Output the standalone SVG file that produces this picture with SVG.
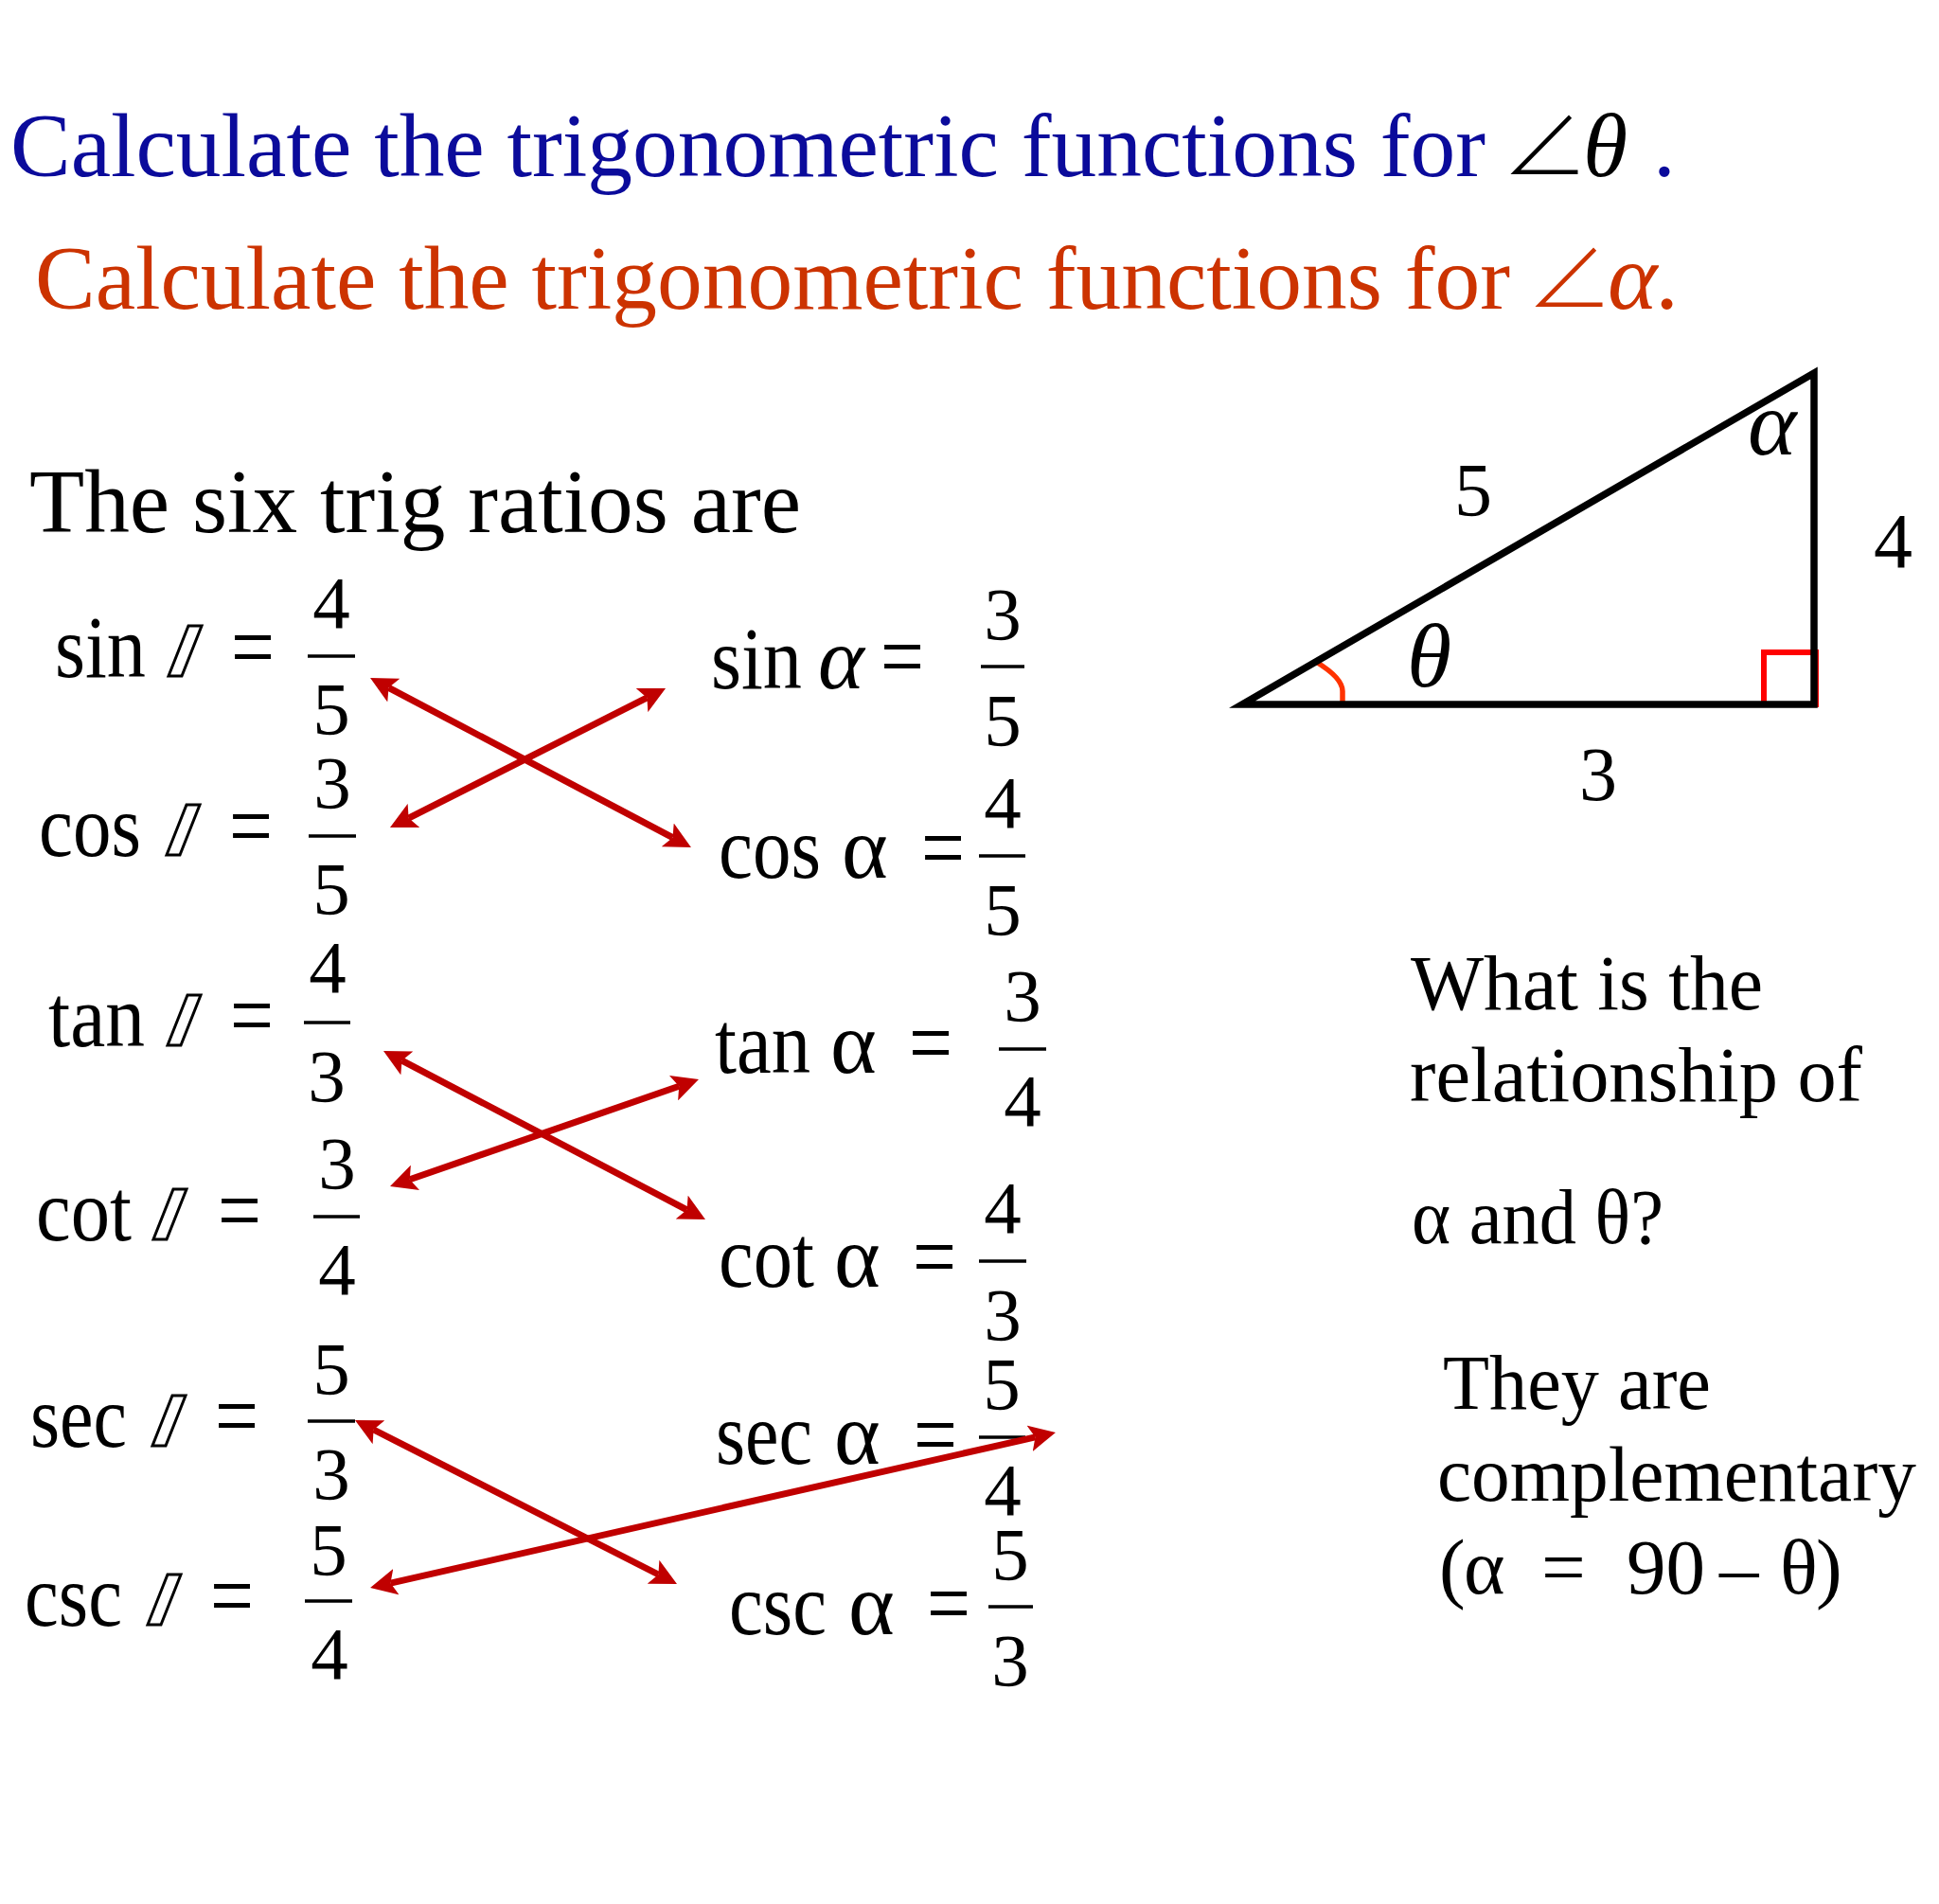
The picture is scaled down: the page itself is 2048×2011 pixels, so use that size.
<svg xmlns="http://www.w3.org/2000/svg" xmlns:xlink="http://www.w3.org/1999/xlink" width="2048" height="2011" viewBox="0 0 2048 2011">
<style>
.t{font-family:"Liberation Serif","Times New Roman",serif;fill:#000}
.fn{font-size:93px}
.eq{font-size:100px}
.dg{font-size:79px;text-anchor:middle}
.it{font-style:italic}
.q{font-size:83px}
.ang{font-family:"Noto Sans CJK JP","Noto Sans CJK SC",sans-serif;font-weight:300}
.bar{stroke:#000;stroke-width:3.5}
.arr{stroke:#C00000;stroke-width:7;fill:none;marker-start:url(#ah);marker-end:url(#ah)}
</style>
<defs>
<marker id="ah" viewBox="0 0 28 28" refX="6" refY="14" markerWidth="28" markerHeight="28" markerUnits="userSpaceOnUse" orient="auto-start-reverse">
<path d="M0,0 L28,14 L0,28 L6,14 Z" fill="#C00000"/>
</marker>
<path id="tofu" d="M0,0 L21,-53 L35,-53 L14,0 Z" fill="none" stroke="#000" stroke-width="3"/>
</defs>
<rect width="2048" height="2011" fill="#fff"/>

<g id="title1">
<text class="t" x="11" y="186" font-size="95" style="fill:#0b0b9b" textLength="1558" lengthAdjust="spacingAndGlyphs">Calculate the trigonometric functions for</text>
<text class="ang" x="1586" y="186" font-size="92" fill="#000">∠</text>
<text class="t it" x="1672" y="186" font-size="96">θ</text>
<text class="t" x="1746" y="186" font-size="95" style="fill:#0b0b9b">.</text>
</g>

<g id="title2">
<text class="t" x="37" y="326" font-size="95" style="fill:#CC3300" textLength="1558" lengthAdjust="spacingAndGlyphs">Calculate the trigonometric functions for</text>
<text class="ang" x="1612" y="326" font-size="92" fill="#CC3300">∠</text>
<text class="t it" x="1698" y="326" font-size="100" style="fill:#CC3300">α.</text>
</g>

<g id="heading">
<text class="t" x="31" y="562" font-size="95" textLength="815" lengthAdjust="spacingAndGlyphs">The six trig ratios are</text>
</g>

<g id="sin-theta">
<text class="t fn" x="58" y="715" textLength="96" lengthAdjust="spacingAndGlyphs">sin</text>
<use xlink:href="#tofu" x="178" y="714"/>
<text class="t eq" x="244" y="717" textLength="46" lengthAdjust="spacingAndGlyphs">=</text>
<text class="t dg" x="350" y="663">4</text><line class="bar" x1="325" y1="693" x2="375" y2="693"/><text class="t dg" x="350" y="775">5</text>
</g>
<g id="cos-theta">
<text class="t fn" x="41" y="904" textLength="108" lengthAdjust="spacingAndGlyphs">cos</text>
<use xlink:href="#tofu" x="176" y="903"/>
<text class="t eq" x="242" y="906" textLength="46" lengthAdjust="spacingAndGlyphs">=</text>
<text class="t dg" x="351" y="853">3</text><line class="bar" x1="326" y1="883" x2="376" y2="883"/><text class="t dg" x="350" y="965">5</text>
</g>
<g id="tan-theta">
<text class="t fn" x="51" y="1105" textLength="102" lengthAdjust="spacingAndGlyphs">tan</text>
<use xlink:href="#tofu" x="177" y="1104"/>
<text class="t eq" x="243" y="1106" textLength="46" lengthAdjust="spacingAndGlyphs">=</text>
<text class="t dg" x="346" y="1048">4</text><line class="bar" x1="321" y1="1080" x2="370" y2="1080"/><text class="t dg" x="345" y="1163">3</text>
</g>
<g id="cot-theta">
<text class="t fn" x="38" y="1310" textLength="101" lengthAdjust="spacingAndGlyphs">cot</text>
<use xlink:href="#tofu" x="162" y="1309"/>
<text class="t eq" x="230" y="1312" textLength="46" lengthAdjust="spacingAndGlyphs">=</text>
<text class="t dg" x="356" y="1255">3</text><line class="bar" x1="331" y1="1285" x2="380" y2="1285"/><text class="t dg" x="356" y="1367">4</text>
</g>
<g id="sec-theta">
<text class="t fn" x="32" y="1528" textLength="102" lengthAdjust="spacingAndGlyphs">sec</text>
<use xlink:href="#tofu" x="161" y="1527"/>
<text class="t eq" x="227" y="1529" textLength="46" lengthAdjust="spacingAndGlyphs">=</text>
<text class="t dg" x="350" y="1472">5</text><line class="bar" x1="325" y1="1501" x2="375" y2="1501"/><text class="t dg" x="350" y="1583">3</text>
</g>
<g id="csc-theta">
<text class="t fn" x="26" y="1717" textLength="103" lengthAdjust="spacingAndGlyphs">csc</text>
<use xlink:href="#tofu" x="156" y="1716"/>
<text class="t eq" x="222" y="1719" textLength="46" lengthAdjust="spacingAndGlyphs">=</text>
<text class="t dg" x="347" y="1663">5</text><line class="bar" x1="322" y1="1691" x2="372" y2="1691"/><text class="t dg" x="348" y="1773">4</text>
</g>

<g id="sin-alpha">
<text class="t fn" x="751" y="727" textLength="96" lengthAdjust="spacingAndGlyphs">sin</text>
<text class="t fn it" x="864" y="727">α</text>
<text class="t eq" x="930" y="727" textLength="46" lengthAdjust="spacingAndGlyphs">=</text>
<text class="t dg" x="1059" y="675">3</text><line class="bar" x1="1036" y1="704" x2="1082" y2="704"/><text class="t dg" x="1059" y="787">5</text>
</g>
<g id="cos-alpha">
<text class="t fn" x="759" y="927" textLength="108" lengthAdjust="spacingAndGlyphs">cos</text>
<text class="t fn" x="889" y="927">α</text>
<text class="t eq" x="973" y="929" textLength="46" lengthAdjust="spacingAndGlyphs">=</text>
<text class="t dg" x="1059" y="874">4</text><line class="bar" x1="1034" y1="904" x2="1083" y2="904"/><text class="t dg" x="1059" y="987">5</text>
</g>
<g id="tan-alpha">
<text class="t fn" x="755" y="1133" textLength="101" lengthAdjust="spacingAndGlyphs">tan</text>
<text class="t fn" x="877" y="1133">α</text>
<text class="t eq" x="960" y="1135" textLength="46" lengthAdjust="spacingAndGlyphs">=</text>
<text class="t dg" x="1080" y="1078">3</text><line class="bar" x1="1055" y1="1108" x2="1105" y2="1108"/><text class="t dg" x="1080" y="1189">4</text>
</g>
<g id="cot-alpha">
<text class="t fn" x="759" y="1359" textLength="101" lengthAdjust="spacingAndGlyphs">cot</text>
<text class="t fn" x="881" y="1359">α</text>
<text class="t eq" x="964" y="1361" textLength="46" lengthAdjust="spacingAndGlyphs">=</text>
<text class="t dg" x="1059" y="1302">4</text><line class="bar" x1="1034" y1="1332" x2="1084" y2="1332"/><text class="t dg" x="1059" y="1415">3</text>
</g>
<g id="sec-alpha">
<text class="t fn" x="756" y="1546" textLength="102" lengthAdjust="spacingAndGlyphs">sec</text>
<text class="t fn" x="881" y="1546">α</text>
<text class="t eq" x="965" y="1549" textLength="46" lengthAdjust="spacingAndGlyphs">=</text>
<text class="t dg" x="1058" y="1488">5</text><line class="bar" x1="1034" y1="1518" x2="1083" y2="1518"/><text class="t dg" x="1059" y="1600">4</text>
</g>
<g id="csc-alpha">
<text class="t fn" x="770" y="1726" textLength="103" lengthAdjust="spacingAndGlyphs">csc</text>
<text class="t fn" x="896" y="1726">α</text>
<text class="t eq" x="979" y="1727" textLength="46" lengthAdjust="spacingAndGlyphs">=</text>
<text class="t dg" x="1067" y="1668">5</text><line class="bar" x1="1044" y1="1697" x2="1091" y2="1697"/><text class="t dg" x="1067" y="1780">3</text>
</g>

<g id="triangle">
<rect x="1863" y="689" width="55" height="55" fill="none" stroke="#FF0000" stroke-width="6"/>
<path d="M1390,699 Q1418,716 1418,730 L1418,742" fill="none" stroke="#FF3300" stroke-width="5.5"/>
<path d="M1312,744 L1916,744 L1916,394 Z" fill="none" stroke="#000" stroke-width="7.5" stroke-linejoin="miter"/>
<text class="t" x="1536" y="545" font-size="80">5</text>
<text class="t" x="1979" y="599" font-size="82">4</text>
<text class="t" x="1668" y="845" font-size="80">3</text>
<text class="t it" x="1486" y="725" font-size="96">θ</text>
<text class="t it" x="1846" y="480" font-size="98">α</text>
</g>

<g id="question">
<text class="t q" x="1490" y="1066" textLength="372" lengthAdjust="spacingAndGlyphs">What is the</text>
<text class="t q" x="1489" y="1163" textLength="478" lengthAdjust="spacingAndGlyphs">relationship of</text>
<text class="t q" x="1491" y="1313" textLength="266" lengthAdjust="spacingAndGlyphs">α and θ?</text>
</g>

<g id="answer">
<text class="t q" x="1524" y="1488" textLength="283" lengthAdjust="spacingAndGlyphs">They are</text>
<text class="t q" x="1518" y="1585" textLength="506" lengthAdjust="spacingAndGlyphs">complementary</text>
<text class="t q" y="1683"><tspan x="1520">(</tspan><tspan x="1546">α</tspan><tspan x="1628">=</tspan><tspan x="1718">90</tspan><tspan x="1816">–</tspan><tspan x="1880">θ</tspan><tspan x="1918">)</tspan></text>
</g>

<g id="connectors">
<line class="arr" x1="410.5" y1="726.3" x2="710.5" y2="884.7"/>
<line class="arr" x1="431.6" y1="864.1" x2="683.4" y2="736.9"/>
<line class="arr" x1="424.5" y1="1120.2" x2="725.5" y2="1277.8"/>
<line class="arr" x1="432.8" y1="1245.8" x2="717.2" y2="1147.2"/>
<line class="arr" x1="394.6" y1="1510" x2="695.4" y2="1663"/>
<line class="arr" x1="412.5" y1="1672.1" x2="1093.5" y2="1517.9"/>
</g>
</svg>
